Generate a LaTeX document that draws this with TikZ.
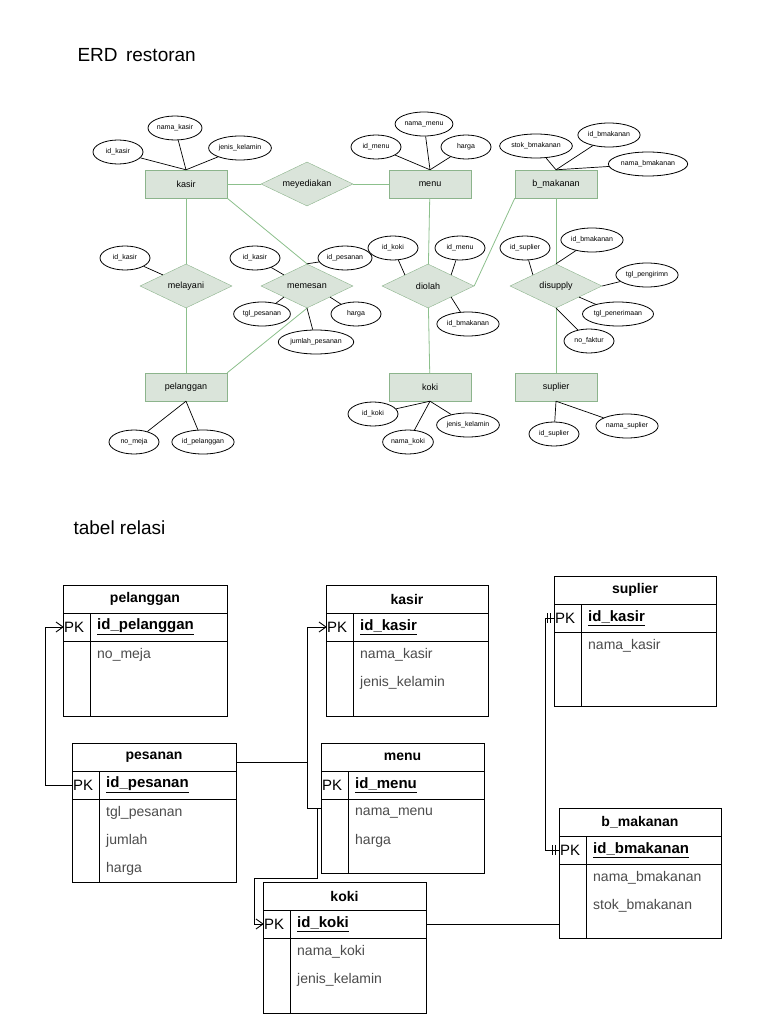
\documentclass[tikz,border=0pt]{standalone}
\usepackage{fontspec}
\setmainfont{Liberation Sans}
\usetikzlibrary{shapes.geometric}
\newcommand\erdtable[8]{%
 \draw[tb] (#2,#3) rectangle (#4,#5);
 \draw[tb] (#2,#3+28) -- (#4,#3+28);
 \draw[tb] (#2,#3+56) -- (#4,#3+56);
 \draw[tb] (#2+27,#3+28) -- (#2+27,#5);
 \node[font=\bfseries\fontsize{14}{16}\selectfont] (#1) at ({(#2+#4)/2},#3+14) {#6};
 \node[anchor=west,inner sep=1pt,font=\fontsize{15}{17}\selectfont] (#1pk) at (#2,#3+42) {PK};
 \node[anchor=west,inner sep=1pt,font=\bfseries\fontsize{15}{17}\selectfont] (#1id) at (#2+33,#3+42) {\underline{#7}};
 \coordinate (#1-l) at (#2,#3+42);
 \coordinate (#1-r) at (#4,#3+42);
 \coordinate (#1-t) at (#4,#3+14);
 \foreach \r [count=\i] in {#8} \node[anchor=west,inner sep=1pt,text=black!70,font=\fontsize{14}{16}\selectfont] at (#2+33,#3+56+\i*28-14) {\r};
}
\begin{document}
\begin{tikzpicture}[x=1pt,y=-1pt,
 ent/.style={draw=green!35!black!45,fill=green!15!gray!25,minimum width=82pt,minimum height=28pt,inner sep=0pt,font=\fontsize{9}{10}\selectfont},
 rel/.style={diamond,aspect=2.1,draw=green!35!black!45,fill=green!15!gray!25,minimum width=92pt,minimum height=44pt,inner sep=0pt,font=\fontsize{9}{10}\selectfont},
 att/.style={ellipse,draw,thick,fill=white,minimum height=24pt,minimum width=50pt,inner sep=1pt,font=\fontsize{7}{8}\selectfont},
 gl/.style={draw=green!45!black!45,line width=0.8pt},
 al/.style={draw,line width=0.7pt},
 tb/.style={draw,line width=1pt},
 cn/.style={draw,line width=0.9pt}]
\useasboundingbox[fill=white] (0,0) rectangle (768,1024);
\node[anchor=west,font=\fontsize{19}{22}\selectfont] (t1) at (74,55) {ERD\, restoran};
\node[anchor=west,font=\fontsize{19}{22}\selectfont] (t2) at (70,528) {tabel relasi};
% entities and relations
\node[ent] (kasir) at (186,184) {kasir};
\node[ent] (menu) at (430,184) {menu};
\node[ent] (bmak) at (556,184) {b\_makanan};
\node[ent] (pel) at (186,387) {pelanggan};
\node[ent] (koki) at (430,387) {koki};
\node[ent] (sup) at (556,387) {suplier};
\node[rel] (mey) at (307,184) {meyediakan};
\node[rel] (mel) at (186,286) {melayani};
\node[rel] (mem) at (307,286) {memesan};
\node[rel] (dio) at (428,286) {diolah};
\node[rel] (dis) at (556,286) {disupply};
\draw[gl] (kasir) -- (mey) -- (menu);
\draw[gl] (kasir) -- (mel) -- (pel);
\draw[gl] (kasir.south east) -- (mem.north);
\draw[gl] (mem.south) -- (pel.north east);
\draw[gl] (menu) -- (dio) -- (koki);
\draw[gl] (dio.east) -- (bmak.south west);
\draw[gl] (bmak) -- (dis) -- (sup);
% attributes
\node[att] (a1) at (175,128) {nama\_kasir};
\node[att] (a2) at (118,152) {id\_kasir};
\node[att] (a3) at (240,148) {jenis\_kelamin};
\draw[al] (a1) -- (kasir.north); \draw[al] (a2) -- (kasir.north); \draw[al] (a3) -- (kasir.north);
\node[att] (b1) at (424,124) {nama\_menu};
\node[att] (b2) at (376,147) {id\_menu};
\node[att] (b3) at (466,147) {harga};
\draw[al] (b1) -- (menu.north); \draw[al] (b2) -- (menu.north); \draw[al] (b3) -- (menu.north);
\node[att] (c1) at (536,146) {stok\_bmakanan};
\node[att] (c2) at (609,135) {id\_bmakanan};
\node[att] (c3) at (648,164) {nama\_bmakanan};
\draw[al] (c1) -- (bmak.north); \draw[al] (c2) -- (bmak.north); \draw[al] (c3) -- (bmak.north);
\node[att] (d1) at (125,258) {id\_kasir};
\draw[al] (d1) -- (mel.north west);
\node[att] (e1) at (255,258) {id\_kasir};
\node[att] (e2) at (345,258) {id\_pesanan};
\node[att] (e3) at (262,314) {tgl\_pesanan};
\node[att] (e4) at (356,314) {harga};
\node[att] (e5) at (316,342) {jumlah\_pesanan};
\draw[al] (e1) -- (mem.north west); \draw[al] (e2) -- (mem.north); \draw[al] (e3) -- (mem.south west);
\draw[al] (e4) -- (mem.south east); \draw[al] (e5) -- (mem.south);
\node[att] (f1) at (393,248) {id\_koki};
\node[att] (f2) at (460,248) {id\_menu};
\node[att] (f3) at (468,324) {id\_bmakanan};
\draw[al] (f1) -- (dio.north west); \draw[al] (f2) -- (dio.north east); \draw[al] (f3) -- (dio.south east);
\node[att] (g1) at (525,248) {id\_suplier};
\node[att] (g2) at (592,240) {id\_bmakanan};
\node[att] (g3) at (647,275) {tgl\_pengirimn};
\node[att] (g4) at (618,314) {tgl\_penerimaan};
\node[att] (g5) at (589,341) {no\_faktur};
\draw[al] (g1) -- (dis.north west); \draw[al] (g2) -- (dis.north); \draw[al] (g3) -- (dis.east);
\draw[al] (g4) -- (dis.south east); \draw[al] (g5) -- (dis.south);
\node[att] (h1) at (134,442) {no\_meja};
\node[att] (h2) at (203,442) {id\_pelanggan};
\draw[al] (h1) -- (pel.south); \draw[al] (h2) -- (pel.south);
\node[att] (i1) at (373,414) {id\_koki};
\node[att] (i2) at (468,425) {jenis\_kelamin};
\node[att] (i3) at (408,442) {nama\_koki};
\draw[al] (i1) -- (koki.south); \draw[al] (i2) -- (koki.south); \draw[al] (i3) -- (koki.south);
\node[att] (j1) at (554,434) {id\_suplier};
\node[att] (j2) at (627,426) {nama\_suplier};
\draw[al] (j1) -- (sup.south); \draw[al] (j2) -- (sup.south);
% tables
\erdtable{tpel}{63}{585}{227}{716}{pelanggan}{id\_pelanggan}{no\_meja}
\erdtable{tkas}{326}{585}{488}{716}{kasir}{id\_kasir}{nama\_kasir,jenis\_kelamin}
\erdtable{tsup}{554}{576}{716}{706}{suplier}{id\_kasir}{nama\_kasir}
\erdtable{tpes}{72}{743}{236}{882}{pesanan}{id\_pesanan}{tgl\_pesanan,jumlah,harga}
\erdtable{tmen}{321}{743}{484}{873}{menu}{id\_menu}{nama\_menu,harga}
\erdtable{tbm}{559}{808}{721}{938}{b\_makanan}{id\_bmakanan}{nama\_bmakanan,stok\_bmakanan}
\erdtable{tkok}{263}{882}{426}{1013}{koki}{id\_koki}{nama\_koki,jenis\_kelamin}
% connectors
\coordinate (m1) at (307,808);
\draw[cn] (tpes-l) -- ++(-27,0) |- (tpel-l);
\draw[cn] (tpel-l) ++(-7,-5) -- ++(7,5) -- ++(-7,5);
\draw[cn] (236,758) -- (236,762) -- (307,762) |- (tkas-l);
\draw[cn] (tkas-l) ++(-7,-5) -- ++(7,5) -- ++(-7,5);
\draw[cn] (307,762) -- (m1) -- (321,808);
\draw[cn] (317,808) -- (317,878) -- (254,878) |- (tkok-l);
\draw[cn] (tkok-l) ++(-7,-5) -- ++(7,5) -- ++(-7,5);
\draw[cn] (tsup-l) -- ++(-9,0) |- (tbm-l);
\draw[cn] (tsup-l) ++(-4,-5) -- ++(0,10);
\draw[cn] (tsup-l) ++(-7,-5) -- ++(0,10);
\draw[cn] (tbm-l) ++(-4,-5) -- ++(0,10);
\draw[cn] (tbm-l) ++(-7,-5) -- ++(0,10);
\draw[cn] (tkok-r) -- (tkok-r -| tbm-l);
\end{tikzpicture}
\end{document}
